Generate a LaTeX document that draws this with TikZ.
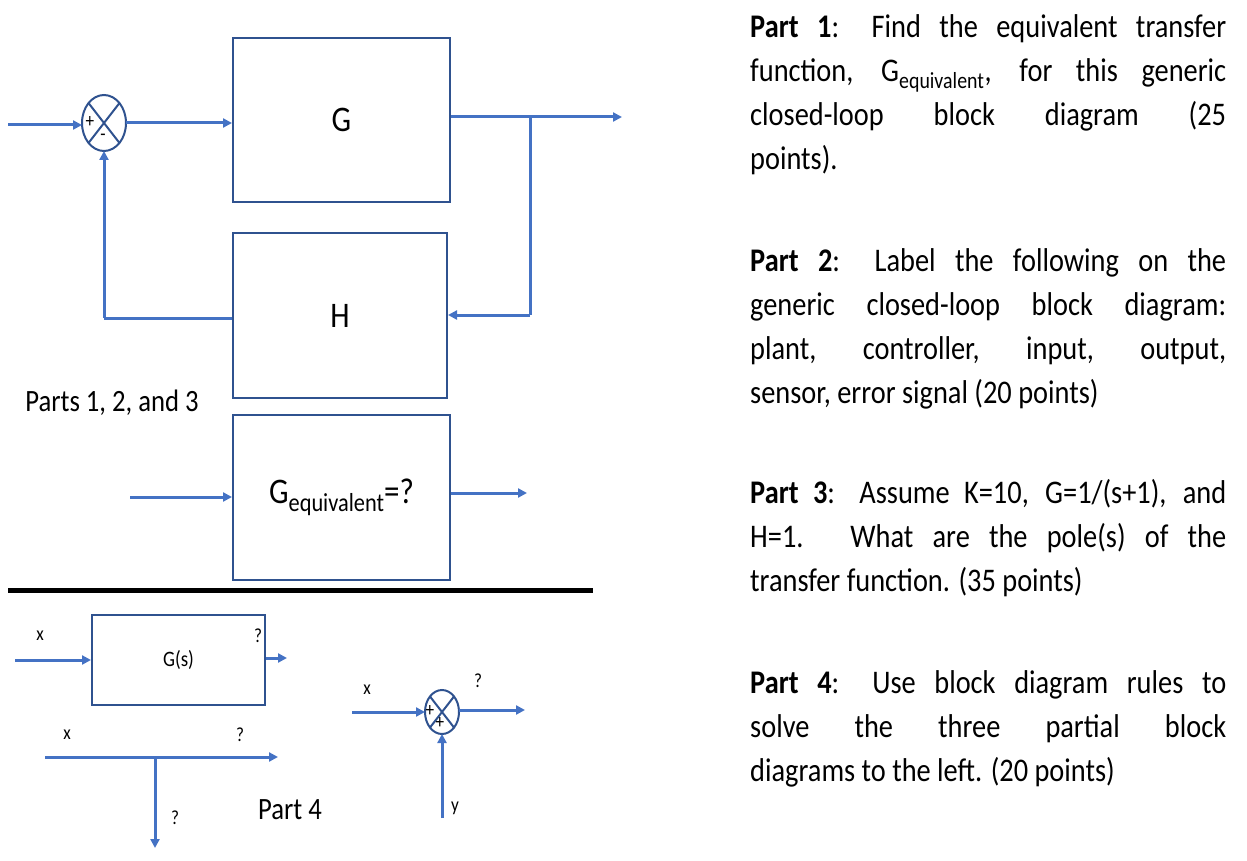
\documentclass[tikz,border=0pt]{standalone}
\usepackage{fontspec}
\setmainfont{Carlito}[FakeStretch=0.86]
\usetikzlibrary{arrows.meta}
\definecolor{ln}{RGB}{68,114,196}
\definecolor{bx}{RGB}{47,82,143}
\begin{document}
\begin{tikzpicture}[x=1pt,y=-1pt,
 blk/.style={draw=bx,line width=2pt,minimum width=#1,inner sep=0},
 sig/.style={ln,line width=3pt,-{Triangle[length=9pt,width=9pt]}},
 wire/.style={ln,line width=3pt},
 lab/.style={font=\fontsize{20}{22}\selectfont,inner sep=0}]
\useasboundingbox (0,0) rectangle (1247,861);
\node[blk,minimum width=217pt,minimum height=164pt] (G) at (341.5,120) {\fontsize{36}{38}\selectfont G};
\node[blk,minimum width=214pt,minimum height=165pt] (H) at (340,315.5) {\fontsize{36}{38}\selectfont H};
\node[blk,minimum width=217pt,minimum height=165pt] (Ge) at (341.5,497.5) {\fontsize{36}{38}\selectfont G\raisebox{-8pt}{\fontsize{26}{28}\selectfont equivalent}=?};
% sum 1
\draw[bx,line width=2pt] (104,123) ellipse (22 and 28);
\draw[bx,line width=2pt] (104,123) +(-15.5,-20) -- +(15.5,20) +(15.5,-20) -- +(-15.5,20);
\node[lab] at (90,122) {+};
\node[lab] at (103,137) {-};
\coordinate (s1l) at (82,125); \coordinate (s1r) at (126,123); \coordinate (s1b) at (104,151);
\coordinate (in) at (8,125);
\draw[sig] (in) -- (s1l);
\draw[sig] (s1r) -- (G.west|-s1r);
\coordinate (out) at (622,117);
\draw[sig] (G.east|-out) -- (out);
\coordinate (br) at (530,117); \coordinate (brd) at (530,315);
\draw[wire] (br) -- (brd);
\draw[sig] (brd) -- (H.east|-brd);
\coordinate (hl) at (104,318);
\draw[wire] (H.west|-hl) -- (hl);
\draw[sig] (hl) -- (s1b);
\coordinate (gi) at (130,497); \coordinate (go) at (527,493);
\draw[sig] (gi) -- (Ge.west|-gi);
\draw[sig] (Ge.east|-go) -- (go);
\node[font=\fontsize{31}{33}\selectfont,inner sep=0] at (112,403) {Parts 1, 2, and 3};
\draw[line width=5pt] (8,590) -- (593,590);
% part 4
\node[blk,minimum width=173pt,minimum height=90pt] (Gs) at (178.5,660) {\fontsize{22}{24}\selectfont G(s)};
\coordinate (a1) at (15,660); \coordinate (a2) at (287,658);
\draw[sig] (a1) -- (Gs.west|-a1);
\draw[sig] (Gs.east|-a2) -- (a2);
\node[lab] at (40,636) {x}; \node[lab] at (258,636) {?};
\coordinate (b1) at (45,757); \coordinate (b2) at (278,757);
\coordinate (b3) at (155,757); \coordinate (b4) at (155,848);
\draw[sig] (b1) -- (b2);
\draw[sig] (b3) -- (b4);
\node[lab] at (67,735) {x}; \node[lab] at (240,735) {?}; \node[lab] at (175,818) {?};
\node[font=\fontsize{31}{33}\selectfont,inner sep=0] at (290,810) {Part 4};
\draw[bx,line width=2pt] (442,712) ellipse (17 and 22);
\draw[bx,line width=2pt] (442,712) +(-12,-15.5) -- +(12,15.5) +(12,-15.5) -- +(-12,15.5);
\node[lab] at (430,711) {+}; \node[lab] at (440,723) {+};
\coordinate (c1) at (352,712); \coordinate (c2) at (425,712);
\coordinate (c3) at (459,710); \coordinate (c4) at (525,710);
\coordinate (c5) at (442,818); \coordinate (c6) at (442,734);
\draw[sig] (c1) -- (c2); \draw[sig] (c3) -- (c4); \draw[sig] (c5) -- (c6);
\node[lab] at (367,690) {x}; \node[lab] at (478,681) {?}; \node[lab] at (455,808) {y};
% text
\node[anchor=north west,text width=476pt,align=justify,inner sep=0,font=\fontsize{33}{44}\selectfont] (t) at (750,14) {%
\textbf{Part 1}: Find the equivalent transfer\linebreak function, G\textsubscript{equivalent}, for this generic\linebreak closed-loop block diagram (25\linebreak points).\par\vspace{58pt}
\textbf{Part 2}: Label the following on the\linebreak generic closed-loop block diagram:\linebreak plant, controller, input, output,\linebreak sensor, error signal (20 points)\par\vspace{56pt}
\textbf{Part 3}: Assume K=10, G=1/(s+1), and\linebreak H=1. What are the pole(s) of the\linebreak transfer function. (35 points)\par\vspace{58pt}
\textbf{Part 4}: Use block diagram rules to\linebreak solve the three partial block\linebreak diagrams to the left. (20 points)};
\end{tikzpicture}
\end{document}
